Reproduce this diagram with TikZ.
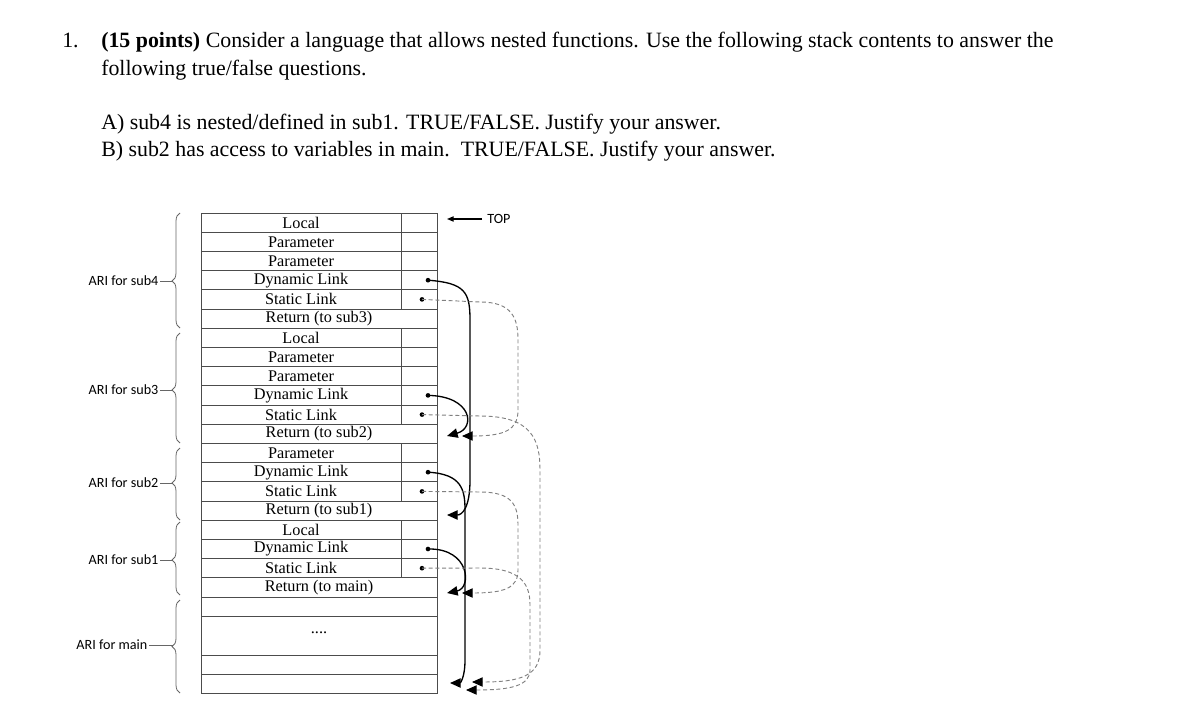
\documentclass[tikz,border=0pt]{standalone}
\usepackage{fontspec}
\setmainfont{Liberation Serif}
\newfontfamily\sansf{Carlito}
\usetikzlibrary{decorations.pathreplacing,arrows.meta}
\begin{document}
\begin{tikzpicture}[x=0.75pt,y=-0.75pt,
  cell/.style={draw=black!70,line width=0.5pt,inner sep=0,minimum height=14.4pt,font=\fontsize{12.2}{12}\selectfont},
  lab/.style={cell,minimum width=150pt},
  lnk/.style={cell,minimum width=27pt},
  full/.style={cell,minimum width=177pt},
  dot/.style={circle,fill=black,inner sep=0,minimum size=3.5pt},
  dyn/.style={line width=1pt,-{Triangle[length=8pt,width=7pt]}},
  stat/.style={gray,line width=0.7pt,dash pattern=on 3pt off 2pt,-{Triangle[length=8pt,width=7pt]},arrows={[black]}},
  ari/.style={font=\sansf\fontsize{10.6}{12}\selectfont,anchor=east,inner sep=1pt},
  br/.style={draw=black!60,line width=0.6pt,decorate,decoration={brace,amplitude=6pt,aspect=\asp}},
  txt/.style={anchor=base west,inner sep=0,font=\fontsize{16.4}{19}\selectfont}]
\useasboundingbox (0,0) rectangle (1201,727);
\node[txt] (q1) at (62,48) {1.};
\node[txt] (q2) at (101,48) {\textbf{(15 points)} Consider a language that allows nested functions. Use the following stack contents to answer the};
\node[txt] (q3) at (101,76) {following true/false questions.};
\node[txt] (qa) at (101,130) {A) sub4 is nested/defined in sub1. TRUE/FALSE. Justify your answer.};
\node[txt] (qb) at (101,157) {B) sub2 has access to variables in main.\ \ TRUE/FALSE. Justify your answer.};
% stack rows
\foreach \i/\t/\f in {0/Local/0,1/Parameter/0,2/Parameter/0,3/Dynamic Link/0,4/Static Link/0,5/Return (to sub3)/1,
  6/Local/0,7/Parameter/0,8/Parameter/0,9/Dynamic Link/0,10/Static Link/0,11/Return (to sub2)/1,
  12/Parameter/0,13/Dynamic Link/0,14/Static Link/0,15/Return (to sub1)/1,
  16/Local/0,17/Dynamic Link/0,18/Static Link/0,19/Return (to main)/1}{
  \pgfmathsetmacro\yc{213+19.2*\i+9.6}
  \ifnum\f=1
    \node[full] (r\i) at (319,\yc) {\t};
  \else
    \node[lab] (r\i) at (301,\yc) {\t};
    \node[lnk] (l\i) at (419,\yc) {};
  \fi
}
\node[full,minimum height=14.25pt] (m0) at (319,606.5) {};
\node[full,minimum height=29.25pt] (m1) at (319,635.5) {\raisebox{4pt}{....}};
\node[full,minimum height=14.25pt] (m2) at (319,664.5) {};
\node[full,minimum height=14.25pt] (m3) at (319,683.5) {};
% TOP
\node[font=\sansf\fontsize{10.6}{12}\selectfont,anchor=west,inner sep=0] (top) at (487,219) {TOP};
\draw[line width=0.8pt,-{Triangle[length=5pt,width=4pt]}] (482,219) -- (447,219);
% braces and labels
\foreach \n/\a/\b/\m/\l in {b4/328/213/281/sub4,b3/443/333/390/sub3,b2/520/448/483/sub2,b1/595/522/560/sub1}{
  \pgfmathsetmacro\asp{(\a-\m)/(\a-\b)}
  \draw[br] (180,\a) -- (180,\b);
  \node[ari] (a\n) at (160,\m) {ARI for \l};
  \draw[black!60,line width=0.6pt] (a\n.east) -- (173,\m);
}
\def\asp{0.5}
\draw[br] (180,693) -- (180,600);
\node[ari] (amain) at (149,645) {ARI for main};
\draw[black!60,line width=0.6pt] (amain.east) -- (173,645);
% link dots
\foreach \i in {3,9,13,17} {\node[dot] (d\i) at (428,{213+19.2*\i+9.6}) {};}
\foreach \i in {4,10,14,18} {\node[dot] (d\i) at (422,{213+19.2*\i+9.6}) {};}
\coordinate (e5) at (447,515);
\coordinate (e11) at (447,436);
\coordinate (e19) at (447,593);
\coordinate (eb) at (450,683);
\coordinate (s11) at (462,436);
\coordinate (s19) at (462,593);
\coordinate (sb1) at (472,682);
\coordinate (sb2) at (466,690);
% dynamic links
\draw[dyn] (d3.center) .. controls (465,283) and (470,292) .. (470,320) -- (470,480) .. controls (470,508) and (462,515) .. (e5);
\draw[dyn] (d9.center) .. controls (472,396) and (476,428) .. (e11);
\draw[dyn] (d13.center) .. controls (462,474) and (465,490) .. (465,510) -- (465,660) .. controls (465,678) and (460,683) .. (eb);
\draw[dyn] (d17.center) .. controls (470,548) and (472,588) .. (e19);
% static links
\draw[stat] (d4.center) -- (480,302) .. controls (512,302) and (518,318) .. (518,340) -- (518,410) .. controls (518,430) and (505,436) .. (s11);
\draw[stat] (d10.center) -- (480,416) .. controls (532,416) and (540,440) .. (540,470) -- (540,650) .. controls (540,676) and (520,682) .. (sb1);
\draw[stat] (d14.center) -- (480,492) .. controls (512,492) and (518,505) .. (518,525) -- (518,570) .. controls (518,588) and (505,593) .. (s19);
\draw[stat] (d18.center) -- (480,568) .. controls (522,568) and (530,585) .. (530,605) -- (530,670) .. controls (530,686) and (510,690) .. (sb2);
\end{tikzpicture}
\end{document}
